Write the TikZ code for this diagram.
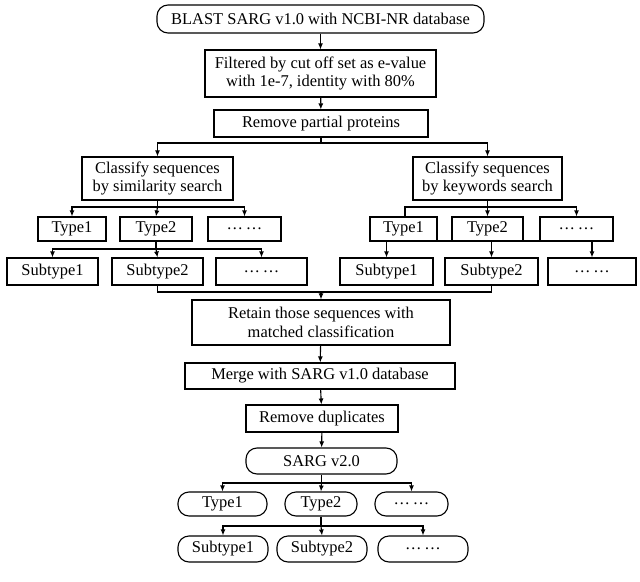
\documentclass[tikz,border=0pt]{standalone}
\usepackage{fontspec}
\setmainfont{Liberation Serif}
\usetikzlibrary{arrows.meta}
\begin{document}
\begin{tikzpicture}[x=1bp,y=-1bp,
  box/.style={draw,line width=1.1bp,inner sep=0pt,align=center,font=\fontsize{16.5}{19}\selectfont},
  rbox/.style={box,rounded corners=11bp},
  ln/.style={line width=1.1bp},
  arr/.style={ln,-{Latex[length=6bp,width=5bp]}}]
\useasboundingbox (0,0) rectangle (640,582);
\node[rbox,minimum width=327bp,minimum height=28bp] (top) at (320.5,19) {BLAST SARG v1.0 with NCBI-NR database};
\node[box,minimum width=231bp,minimum height=47bp] (flt) at (320.5,73.5) {Filtered by cut off set as e-value\\with 1e-7, identity with 80\%};
\node[box,minimum width=214bp,minimum height=27bp] (rp) at (321,123.5) {Remove partial proteins};
\node[box,minimum width=151bp,minimum height=43bp] (cl) at (157.5,178.5) {Classify sequences\\by similarity search};
\node[box,minimum width=149bp,minimum height=43bp] (cr) at (487.5,178.5) {Classify sequences\\by keywords search};
% left types
\node[box,minimum width=68bp,minimum height=24bp] (lt1) at (72,229) {Type1};
\node[box,minimum width=72bp,minimum height=24bp] (lt2) at (156,229) {Type2};
\node[box,minimum width=73bp,minimum height=24bp] (lt3) at (244.5,229) {…\,…};
\node[box,minimum width=91bp,minimum height=27bp] (ls1) at (52.5,271.5) {Subtype1};
\node[box,minimum width=91bp,minimum height=27bp] (ls2) at (157.5,271.5) {Subtype2};
\node[box,minimum width=91bp,minimum height=27bp] (ls3) at (261.5,271.5) {…\,…};
% right types
\node[box,minimum width=67bp,minimum height=24bp] (rt1) at (403.5,229) {Type1};
\node[box,minimum width=71bp,minimum height=24bp] (rt2) at (487.5,229) {Type2};
\node[box,minimum width=73bp,minimum height=24bp] (rt3) at (576.5,229) {…\,…};
\node[box,minimum width=93bp,minimum height=27bp] (rs1) at (386.5,271.5) {Subtype1};
\node[box,minimum width=93bp,minimum height=27bp] (rs2) at (491.5,271.5) {Subtype2};
\node[box,minimum width=88bp,minimum height=27bp] (rs3) at (592,271.5) {…\,…};
% lower
\node[box,minimum width=258bp,minimum height=45bp] (ret) at (321,322.5) {Retain those sequences with\\matched classification};
\node[box,minimum width=270bp,minimum height=26bp] (mrg) at (320,376) {Merge with SARG v1.0 database};
\node[box,minimum width=152bp,minimum height=27bp] (dup) at (322,418.5) {Remove duplicates};
\node[rbox,minimum width=151bp,minimum height=26bp] (v2) at (321.5,461) {SARG v2.0};
\node[rbox,minimum width=89bp,minimum height=24bp] (bt1) at (222.5,504) {Type1};
\node[rbox,minimum width=72bp,minimum height=24bp] (bt2) at (321,504) {Type2};
\node[rbox,minimum width=73bp,minimum height=24bp] (bt3) at (411.5,504) {…\,…};
\node[rbox,minimum width=90bp,minimum height=26bp] (bs1) at (223,549) {Subtype1};
\node[rbox,minimum width=90bp,minimum height=26bp] (bs2) at (322,549) {Subtype2};
\node[rbox,minimum width=90bp,minimum height=26bp] (bs3) at (423,549) {…\,…};
\coordinate (y1) at (0,143);
\coordinate (y2) at (0,207);
\coordinate (y3) at (0,249);
\coordinate (y4) at (0,292);
\coordinate (y5) at (0,483);
\coordinate (y6) at (0,526);
\coordinate (rk) at (405,207);
\coordinate (rb) at (370,241);
% top chain
\draw[arr] (top) -- (flt);
\draw[arr] (flt) -- (rp);
\draw[ln] (rp.south) -- (rp.south|-y1);
\draw[arr] (rp.south|-y1) -| (cl.north);
\draw[arr] (rp.south|-y1) -| (cr.north);
% left types
\draw[ln] (cl.south) -- (cl.south|-y2);
\draw[arr] (cl.south|-y2) -| (lt1.north);
\draw[arr] (cl.south|-y2) -- (lt2.north);
\draw[arr] (cl.south|-y2) -| (lt3.north);
\draw[ln] (lt2.south) -- (lt2.south|-y3);
\draw[arr] (lt2.south|-y3) -| (ls1.north);
\draw[arr] (lt2.south|-y3) -- (ls2.north);
\draw[arr] (lt2.south|-y3) -| (ls3.north);
% right types
\draw[arr] (cr.south) -- (rt2.north);
\draw[ln] (rk|-rt1.north) -- (rk) -- (rk-|rt3.north);
\draw[arr] (rk-|rt3.north) -- (rt3.north);
\draw[ln] (rb) -- (rb-|rt3.south east);
\draw[arr] (rb-|rs1.north) -- (rs1.north);
\draw[arr] (rb-|rs2.north) -- (rs2.north);
\draw[arr] (rb-|rs3.north) -- (rs3.north);
% merge
\draw[ln] (ls2.south) |- (y4-|ret.north) -| (rs2.south);
\draw[arr] (y4-|ret.north) -- (ret.north);
\draw[arr] (ret) -- (mrg);
\draw[arr] (mrg) -- (dup);
\draw[arr] (dup) -- (v2);
\draw[ln] (v2.south) -- (v2.south|-y5);
\draw[arr] (v2.south|-y5) -| (bt1.north);
\draw[arr] (v2.south|-y5) -- (bt2.north);
\draw[arr] (v2.south|-y5) -| (bt3.north);
\draw[ln] (bt2.south) -- (bt2.south|-y6);
\draw[arr] (bt2.south|-y6) -| (bs1.north);
\draw[arr] (bt2.south|-y6) -- (bs2.north);
\draw[arr] (bt2.south|-y6) -| (bs3.north);
\end{tikzpicture}
\end{document}
